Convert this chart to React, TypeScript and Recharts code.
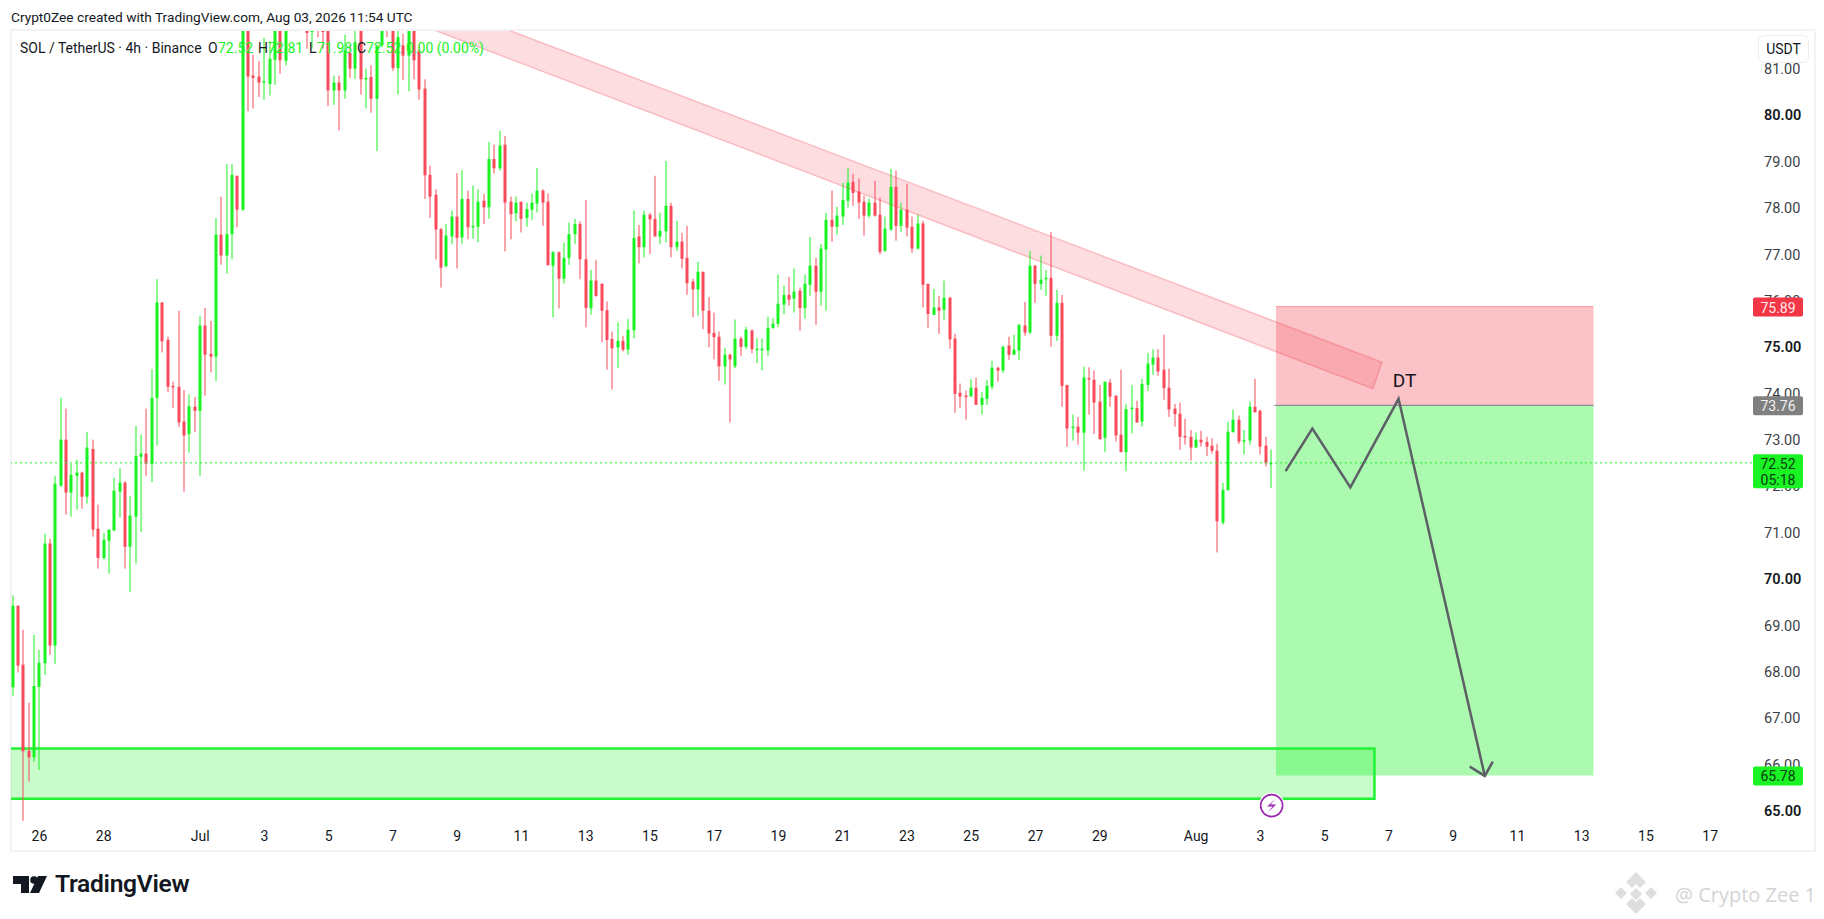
import { ComposedChart, Bar, Area, Line, XAxis, YAxis, ReferenceArea, ReferenceLine, ReferenceDot } from 'recharts';

const GREEN = '#19f223';
const RED = '#f23645';
const CANDLE_RED = '#f84a5b';
const FONT = 'Roboto, "Noto Sans", sans-serif';

// 4h candles. Above the top of the pane the values are guesses
const opens = [
  67.68, 69.44, 68.17, 66.31, 66.17, 67.69, 68.20, 70.78, 68.58, 72.03,
  73.02, 71.88, 72.24, 72.31, 71.79, 72.82, 71.10, 70.47, 70.84, 71.06,
  71.90, 72.09, 70.71, 71.36, 72.65, 72.72, 72.50, 73.92, 75.98, 75.17,
  74.18, 74.16, 73.41, 73.14, 73.73, 73.64, 75.48, 74.87, 74.81, 77.44,
  76.99, 77.45, 78.71, 77.98, 82.2, 80.87, 80.85, 80.73, 80.69, 81.21,
  82.0, 81.19, 82.2, 82.4, 82.9, 82.6, 81.81, 82.5, 82.2, 81.95,
  80.55, 80.72, 80.55, 81.36, 81.02, 82.0, 80.80, 80.84, 80.37, 81.52,
  82.3, 82.0, 81.03, 81.52, 81.30, 82.2, 81.41, 80.59, 78.73, 78.30,
  77.56, 76.76, 77.40, 77.83, 77.38, 78.21, 77.62, 77.61, 78.17, 78.03,
  79.07, 78.87, 79.38, 78.15, 77.90, 78.15, 77.80, 77.98, 78.11, 78.39,
  78.15, 76.77, 77.06, 76.49, 76.94, 77.45, 77.67, 76.91, 75.85, 76.45,
  76.38, 75.81, 75.19, 75.01, 75.15, 74.96, 75.38, 77.40, 77.17, 77.87,
  77.78, 77.40, 77.51, 78.06, 77.17, 77.29, 76.94, 76.43, 76.26, 76.64,
  75.80, 75.32, 75.24, 74.60, 74.85, 74.60, 75.20, 75.02, 75.37, 74.97,
  74.97, 74.94, 75.43, 75.52, 75.93, 76.14, 76.06, 76.23, 75.86, 76.36,
  76.77, 76.21, 77.12, 77.76, 77.61, 77.83, 78.17, 78.58, 78.37, 78.15,
  77.85, 78.13, 77.87, 77.09, 77.55, 78.47, 77.63, 77.98, 77.61, 77.14,
  77.68, 76.38, 75.71, 75.87, 75.82, 76.08, 75.20, 74.03, 73.97, 73.95,
  74.14, 73.77, 73.90, 74.16, 74.57, 74.51, 75.05, 74.85, 74.94, 75.48,
  75.33, 76.77, 76.38, 76.50, 76.51, 75.26, 75.97, 74.20, 73.28, 73.30,
  73.17, 74.35, 74.31, 73.84, 73.06, 74.25, 73.97, 73.13, 72.75, 73.70,
  73.70, 73.41, 74.20, 74.64, 74.79, 74.53, 74.14, 73.69, 73.58, 73.10,
  73.08, 72.85, 73.02, 72.97, 72.89, 72.78, 71.23, 71.93, 73.18, 73.45,
  72.98, 73.00, 73.73, 73.64, 72.89, 72.52,
];
const closes = [
  69.44, 68.15, 66.30, 66.17, 67.71, 68.21, 70.78, 68.58, 72.07, 73.02,
  71.88, 72.26, 72.31, 71.79, 72.85, 71.08, 70.47, 70.86, 71.08, 71.92,
  72.09, 70.71, 71.38, 72.67, 72.72, 72.50, 73.92, 75.98, 75.14, 74.16,
  74.15, 73.39, 73.11, 73.74, 73.64, 75.48, 74.85, 74.81, 77.44, 76.99,
  77.45, 78.73, 77.98, 82.2, 80.85, 80.82, 80.72, 80.75, 81.23, 82.0,
  81.20, 82.2, 82.4, 82.9, 82.4, 81.79, 82.6, 82.0, 81.81, 80.55,
  80.72, 80.55, 81.41, 81.02, 81.59, 80.79, 80.82, 80.37, 81.52, 82.0,
  82.0, 81.03, 81.7, 81.30, 81.95, 81.2, 80.57, 78.72, 78.26, 77.55,
  76.73, 77.42, 77.83, 77.37, 78.21, 77.60, 77.63, 78.15, 78.03, 79.07,
  78.87, 79.36, 78.13, 77.88, 78.13, 77.78, 77.99, 78.13, 78.39, 78.13,
  76.78, 77.06, 76.49, 76.94, 77.45, 77.67, 76.91, 75.86, 76.45, 76.12,
  75.80, 75.17, 74.99, 75.15, 74.96, 75.39, 77.37, 77.17, 77.87, 77.77,
  77.40, 77.52, 78.06, 77.17, 77.29, 76.92, 76.39, 76.26, 76.64, 75.80,
  75.31, 75.23, 74.60, 74.85, 74.75, 75.20, 75.02, 75.39, 74.97, 74.98,
  74.98, 75.43, 75.52, 75.95, 76.14, 76.04, 76.21, 75.86, 76.38, 76.77,
  76.21, 77.14, 77.76, 77.61, 77.85, 78.19, 78.56, 78.34, 78.13, 77.85,
  78.13, 77.85, 77.07, 77.57, 78.47, 77.63, 77.98, 77.59, 77.14, 77.68,
  76.36, 75.73, 75.87, 75.80, 76.08, 75.18, 74.01, 73.95, 73.96, 74.14,
  73.77, 73.92, 74.18, 74.57, 74.51, 75.02, 74.85, 74.96, 75.50, 75.33,
  76.77, 76.38, 76.47, 76.51, 75.26, 75.97, 74.18, 73.26, 73.30, 73.17,
  74.36, 74.33, 73.82, 73.03, 74.27, 73.95, 73.11, 72.75, 73.68, 73.71,
  73.39, 74.22, 74.66, 74.79, 74.49, 74.13, 73.67, 73.57, 73.08, 73.07,
  72.85, 73.02, 72.96, 72.87, 72.78, 71.26, 71.94, 73.19, 73.45, 72.98,
  73.01, 73.73, 73.61, 72.87, 72.51, 72.52,
];
const highs = [
  69.66, 69.44, 68.92, 67.35, 68.81, 68.49, 70.99, 70.88, 72.24, 73.92,
  73.69, 72.50, 72.59, 72.33, 73.19, 73.02, 71.62, 71.01, 71.08, 72.20,
  72.41, 72.13, 71.81, 73.32, 73.13, 73.69, 74.54, 76.48, 75.98, 75.24,
  74.27, 75.80, 74.09, 74.00, 73.94, 75.69, 75.86, 75.58, 77.80, 78.26,
  78.96, 78.96, 78.71, 82.5, 82.4, 81.32, 81.18, 81.68, 81.6, 82.2,
  82.3, 82.5, 82.7, 83.1, 83.2, 82.9, 82.8, 82.8, 82.5, 82.2,
  80.87, 80.87, 81.75, 81.53, 82.0, 82.2, 81.02, 81.09, 81.52, 82.2,
  82.5, 82.3, 81.95, 81.77, 82.2, 82.4, 81.52, 80.79, 78.93, 78.42,
  77.58, 77.67, 77.96, 78.77, 78.83, 78.39, 78.50, 78.42, 78.32, 79.44,
  79.38, 79.68, 79.57, 78.26, 78.26, 78.15, 78.13, 78.33, 78.88, 78.42,
  78.33, 77.09, 77.08, 77.27, 77.70, 77.78, 77.73, 78.19, 76.68, 76.89,
  76.39, 76.00, 75.35, 75.55, 75.26, 75.62, 77.96, 77.65, 77.96, 77.91,
  78.71, 77.91, 79.03, 78.13, 77.74, 77.48, 77.63, 76.49, 76.86, 76.64,
  76.09, 75.76, 75.35, 75.00, 74.88, 75.61, 75.24, 75.45, 75.40, 75.21,
  75.20, 75.67, 75.64, 76.58, 76.34, 76.53, 76.71, 76.30, 76.58, 77.39,
  76.94, 77.24, 77.91, 78.39, 78.04, 78.56, 78.88, 78.75, 78.65, 78.28,
  78.22, 78.60, 78.24, 77.83, 78.86, 78.82, 78.13, 78.54, 77.83, 77.87,
  77.74, 76.38, 76.27, 76.12, 76.45, 76.10, 75.30, 74.23, 74.08, 74.33,
  74.36, 74.05, 74.31, 74.72, 74.59, 75.05, 75.24, 75.28, 75.50, 75.99,
  77.09, 76.79, 76.99, 76.68, 77.50, 76.25, 76.14, 74.20, 73.56, 73.51,
  74.59, 74.58, 74.51, 74.20, 74.27, 74.33, 73.97, 74.53, 73.79, 74.20,
  73.86, 74.33, 74.89, 74.97, 74.97, 75.28, 74.55, 73.79, 73.82, 73.47,
  73.23, 73.17, 73.21, 73.08, 73.05, 72.93, 72.09, 73.41, 73.67, 73.54,
  73.23, 73.84, 74.33, 73.67, 73.08, 72.81,
];
const lows = [
  67.50, 68.00, 64.80, 65.65, 66.08, 65.90, 67.95, 68.38, 68.19, 72.00,
  71.40, 71.36, 71.51, 71.53, 71.64, 70.93, 70.24, 70.43, 70.13, 71.06,
  71.34, 70.24, 69.74, 70.35, 71.03, 72.24, 72.11, 72.89, 74.90, 74.04,
  73.70, 73.30, 71.90, 72.74, 73.19, 72.24, 73.97, 74.47, 74.28, 76.79,
  76.60, 76.91, 77.60, 77.95, 80.1, 80.16, 80.41, 80.35, 80.44, 80.67,
  80.91, 81.09, 81.95, 81.82, 82.0, 81.45, 81.45, 81.70, 81.45, 80.21,
  80.24, 79.69, 80.37, 80.82, 80.80, 80.46, 80.16, 80.07, 79.24, 81.48,
  81.70, 80.97, 80.46, 80.77, 80.53, 80.79, 80.35, 78.21, 77.80, 76.90,
  76.30, 76.73, 77.24, 76.71, 77.24, 77.34, 77.35, 77.27, 77.67, 77.78,
  78.76, 78.82, 77.08, 77.34, 77.73, 77.49, 77.61, 77.76, 77.92, 77.63,
  76.78, 75.66, 75.85, 76.39, 76.79, 77.24, 76.48, 75.44, 75.71, 76.10,
  75.12, 74.53, 74.10, 74.56, 74.92, 74.85, 75.20, 76.82, 76.95, 77.02,
  77.40, 77.24, 77.27, 76.95, 77.09, 76.71, 76.14, 75.66, 75.69, 75.40,
  75.01, 74.75, 74.29, 74.21, 73.39, 74.56, 74.83, 74.97, 74.88, 74.67,
  74.51, 74.83, 75.41, 75.45, 75.73, 75.91, 75.76, 75.37, 75.63, 76.12,
  75.50, 75.91, 75.80, 77.29, 77.44, 77.65, 78.02, 78.06, 77.78, 77.42,
  77.80, 77.83, 77.01, 77.07, 77.52, 77.31, 77.50, 77.40, 77.05, 77.12,
  75.87, 75.43, 75.71, 75.30, 75.59, 74.98, 73.60, 73.71, 73.45, 73.95,
  73.77, 73.56, 73.77, 74.10, 74.27, 74.46, 74.74, 74.85, 74.74, 75.26,
  75.30, 75.97, 76.25, 76.12, 75.02, 75.15, 73.73, 72.87, 73.00, 72.91,
  72.35, 73.56, 73.14, 73.02, 72.75, 73.73, 72.98, 72.75, 72.34, 73.16,
  73.39, 73.30, 74.07, 74.42, 74.40, 73.88, 73.51, 73.30, 72.80, 72.91,
  72.57, 72.85, 72.87, 72.67, 72.72, 70.59, 71.19, 71.93, 73.18, 72.93,
  72.70, 72.91, 73.61, 72.70, 72.44, 71.98,
];

const candles = opens.map((open, i) => ({
  i,
  open,
  close: closes[i],
  high: highs[i],
  low: lows[i],
  range: [lows[i], highs[i]],
}));

const xTicks = [5, 17, 35, 47, 59, 71, 83, 95, 107, 119, 131, 143, 155, 167, 179, 191, 203, 221, 233, 245, 257, 269, 281, 293, 305, 317];
const xLabels = ['26', '28', 'Jul', '3', '5', '7', '9', '11', '13', '15', '17', '19', '21', '23', '25', '27', '29', 'Aug', '3', '5', '7', '9', '11', '13', '15', '17'];
const yTicks = [65, 66, 67, 68, 69, 70, 71, 72, 73, 74, 75, 76, 77, 78, 79, 80, 81];
// price tags come last in the tick list so they are painted over the round numbers
const tagPrices = [75.89, 73.76, 72.52, 65.78];

// falling channel
const channelBand = [
  { i: 76, band: [81.97, 82.58] },
  { i: 254, band: [74.12, 74.76] },
  { i: 255.7, band: [74.69, 74.69] },
];
const channelEdge = [
  { i: 76, p: 81.97 },
  { i: 254, p: 74.12 },
  { i: 255.7, p: 74.69 },
  { i: 76, p: 82.58 },
];
// hand drawn double top and arrow
const sketch = [
  { i: 237.7, p: 72.34 },
  { i: 242.7, p: 73.26 },
  { i: 249.8, p: 71.99 },
  { i: 258.8, p: 73.9 },
  { i: 274.9, p: 65.77 },
];
const arrowHead = [
  { i: 272.1, p: 65.97 },
  { i: 274.9, p: 65.77 },
  { i: 276.4, p: 66.08 },
];

function Candle(props: any) {
  const { x, y, width, height, payload } = props;
  const { open, close, high, low } = payload;
  const perUnit = height / (high - low);
  const cx = Math.round(x + width / 2);
  const top = y + (high - Math.max(open, close)) * perUnit;
  const bodyH = Math.max(Math.abs(open - close) * perUnit, 1.5);
  const color = close >= open ? GREEN : CANDLE_RED;
  return (
    <g>
      <rect x={cx - 0.5} y={y} width={1} height={height} fill={color} />
      <rect x={cx - 1.5} y={top} width={3} height={bodyH} fill={color} />
    </g>
  );
}

function PriceTag({ x, y, text, bg, color, sub }: any) {
  const h = sub ? 34 : 19;
  const top = sub ? y - 8.5 : y - h / 2 + 0.5;
  return (
    <g>
      <rect x={x} y={top} width={50} height={h} rx={2} fill={bg} />
      <text x={x + 25} y={top + 15} textAnchor="middle" fontFamily={FONT} fontSize={14} fill={color}>{text}</text>
      {sub && <text x={x + 25} y={top + 31} textAnchor="middle" fontFamily={FONT} fontSize={14} fill={color}>{sub}</text>}
    </g>
  );
}

function PriceTick(props: any) {
  const { x, y, payload } = props;
  const v = payload.value;
  const tagX = x - 11;
  if (v === 75.89) return <PriceTag x={tagX} y={y} text="75.89" bg={RED} color="#ffe9ea" />;
  if (v === 73.76) return <PriceTag x={tagX} y={y} text="73.76" bg="#808080" color="#f2f2f2" />;
  if (v === 72.52) return <PriceTag x={tagX} y={y} text="72.52" sub="05:18" bg={GREEN} color="#0b3d10" />;
  if (v === 65.78) return <PriceTag x={tagX} y={y} text="65.78" bg={GREEN} color="#0b3d10" />;
  const strong = v % 5 === 0;
  return (
    <text x={x} y={y} dy={4.5} fontFamily={FONT} fontSize={14.5} fontWeight={strong ? 600 : 400} fill={strong ? '#131722' : '#3c3f48'}>
      {v.toFixed(2)}
    </text>
  );
}

function Bolt({ cx, cy }: any) {
  return (
    <g>
      <circle cx={cx} cy={cy} r={13} fill="#fff" />
      <circle cx={cx} cy={cy} r={11} fill="#fff" stroke="#9c27b0" strokeWidth={1.6} />
      <path d={`M${cx + 4} ${cy - 7} L${cx - 4.5} ${cy + 1} H${cx + 1} L${cx - 4} ${cy + 7} L${cx + 4.5} ${cy - 1} H${cx - 1} Z`} fill="#9c27b0" />
    </g>
  );
}

const textAt = (left: number, top: number, color: string): React.CSSProperties => ({
  position: 'absolute',
  left,
  top,
  color,
  fontFamily: FONT,
  fontSize: 14,
  lineHeight: '18px',
  whiteSpace: 'nowrap',
});

export default function App() {
  return (
    <div style={{ position: 'absolute', left: 0, top: 0, width: 1824, height: 919, background: '#fff', overflow: 'hidden' }}>
      <div style={{ position: 'absolute', left: 10, top: 29, width: 1802, height: 819, border: '2px solid #f3f3f3' }} />
      <div style={{ position: 'absolute', left: 0, top: 0 }}>
        <ComposedChart width={1824} height={919} data={candles} margin={{ top: 31, left: 11, right: 12, bottom: 70 }}>
          <XAxis
            dataKey="i"
            type="number"
            domain={[-0.317, 324.8]}
            allowDataOverflow
            ticks={xTicks}
            interval={0}
            height={23}
            axisLine={false}
            tickLine={false}
            tickMargin={-1}
            tick={{ fontSize: 14, fontFamily: FONT, fill: '#131722' }}
            tickFormatter={(v: number) => xLabels[xTicks.indexOf(v)]}
          />
          <YAxis
            orientation="right"
            type="number"
            domain={[64.69, 81.831]}
            allowDataOverflow
            ticks={[...yTicks, ...tagPrices]}
            interval={0}
            width={60}
            axisLine={false}
            tickLine={false}
            tickMargin={6}
            tick={<PriceTick />}
          />
          <ReferenceArea x1={235.9} x2={295.2} y1={65.78} y2={73.76} fill={GREEN} fillOpacity={0.36} stroke="none" ifOverflow="hidden" />
          <ReferenceArea x1={235.9} x2={295.2} y1={73.76} y2={75.89} fill={RED} fillOpacity={0.3} stroke="none" ifOverflow="hidden" />
          <ReferenceLine segment={[{ x: 235.9, y: 75.89 }, { x: 295.2, y: 75.89 }]} stroke={RED} strokeOpacity={0.4} />
          <ReferenceLine segment={[{ x: 235.6, y: 73.76 }, { x: 295.2, y: 73.76 }]} stroke="#787b86" />
          <ReferenceArea x1={-3} x2={254.3} y1={65.28} y2={66.36} fill={GREEN} fillOpacity={0.24} stroke="#22f235" strokeWidth={2.5} ifOverflow="hidden" />
          <Area data={channelBand} dataKey="band" type="linear" fill={RED} fillOpacity={0.17} stroke="none" dot={false} activeDot={false} isAnimationActive={false} />
          <Line data={channelEdge} dataKey="p" type="linear" stroke={RED} strokeOpacity={0.27} strokeWidth={1.5} dot={false} activeDot={false} isAnimationActive={false} />
          <ReferenceLine y={72.52} stroke={GREEN} strokeDasharray="2 3" />
          <Bar dataKey="range" barSize={3} shape={<Candle />} isAnimationActive={false} />
          <Line data={sketch} dataKey="p" type="linear" stroke="#5d5f66" strokeWidth={2.5} dot={false} activeDot={false} isAnimationActive={false} />
          <Line data={arrowHead} dataKey="p" type="linear" stroke="#5d5f66" strokeWidth={2.5} dot={false} activeDot={false} isAnimationActive={false} />
          <ReferenceDot x={259.9} y={74.29} r={0} stroke="none" label={{ value: 'DT', position: 'center', fontSize: 19, fontFamily: FONT, fill: '#131722' }} />
          <ReferenceDot x={235.1} y={65.13} shape={<Bolt />} />
        </ComposedChart>
      </div>

      <div style={{ ...textAt(11, 8, '#131722'), fontSize: 13.7 }}>Crypt0Zee created with TradingView.com, Aug 03, 2026 11:54 UTC</div>
      <div style={textAt(20, 39, '#131722')}>SOL / TetherUS · 4h · Binance</div>
      <div style={textAt(208, 39, '#131722')}>O</div>
      <div style={textAt(218, 39, GREEN)}>72.52</div>
      <div style={textAt(258, 39, '#131722')}>H</div>
      <div style={textAt(268, 39, GREEN)}>72.81</div>
      <div style={textAt(309, 39, '#131722')}>L</div>
      <div style={textAt(317, 39, GREEN)}>71.98</div>
      <div style={textAt(357, 39, '#131722')}>C</div>
      <div style={textAt(366, 39, GREEN)}>72.52</div>
      <div style={textAt(406, 39, GREEN)}>0.00 (0.00%)</div>
      <div style={{ ...textAt(1758, 35, '#131722'), width: 49, height: 26, lineHeight: '26px', textAlign: 'center', background: '#fff', border: '1px solid #eceef2', borderRadius: 6 }}>USDT</div>

      <svg width={40} height={24} style={{ position: 'absolute', left: 10, top: 873 }}>
        <path d="M3 3 H19 V20 H11 V11 H3 Z M37 3 L29 20 H20 L28 3 Z" fill="#131722" />
        <circle cx={24} cy={7} r={3.8} fill="#131722" />
      </svg>
      <div style={{ ...textAt(55, 869, '#131722'), fontSize: 24.6, lineHeight: '30px', fontWeight: 600, letterSpacing: -0.3 }}>TradingView</div>

      <svg width={50} height={50} style={{ position: 'absolute', left: 1611, top: 869 }}>
        <path d="M25 3 L35 13 L29 19 L25 15 L21 19 L15 13 Z M10 18 L16 24 L10 30 L4 24 Z M40 18 L46 24 L40 30 L34 24 Z M25 19 L31 25 L25 31 L19 25 Z M15 35 L21 29 L25 33 L29 29 L35 35 L25 45 Z" fill="#dedede" />
      </svg>
      <div style={{ ...textAt(1675, 880, '#d4d4d4'), fontFamily: '"Open Sans", sans-serif', fontSize: 20, lineHeight: '30px' }}>@ Crypto Zee 1</div>
    </div>
  );
}
